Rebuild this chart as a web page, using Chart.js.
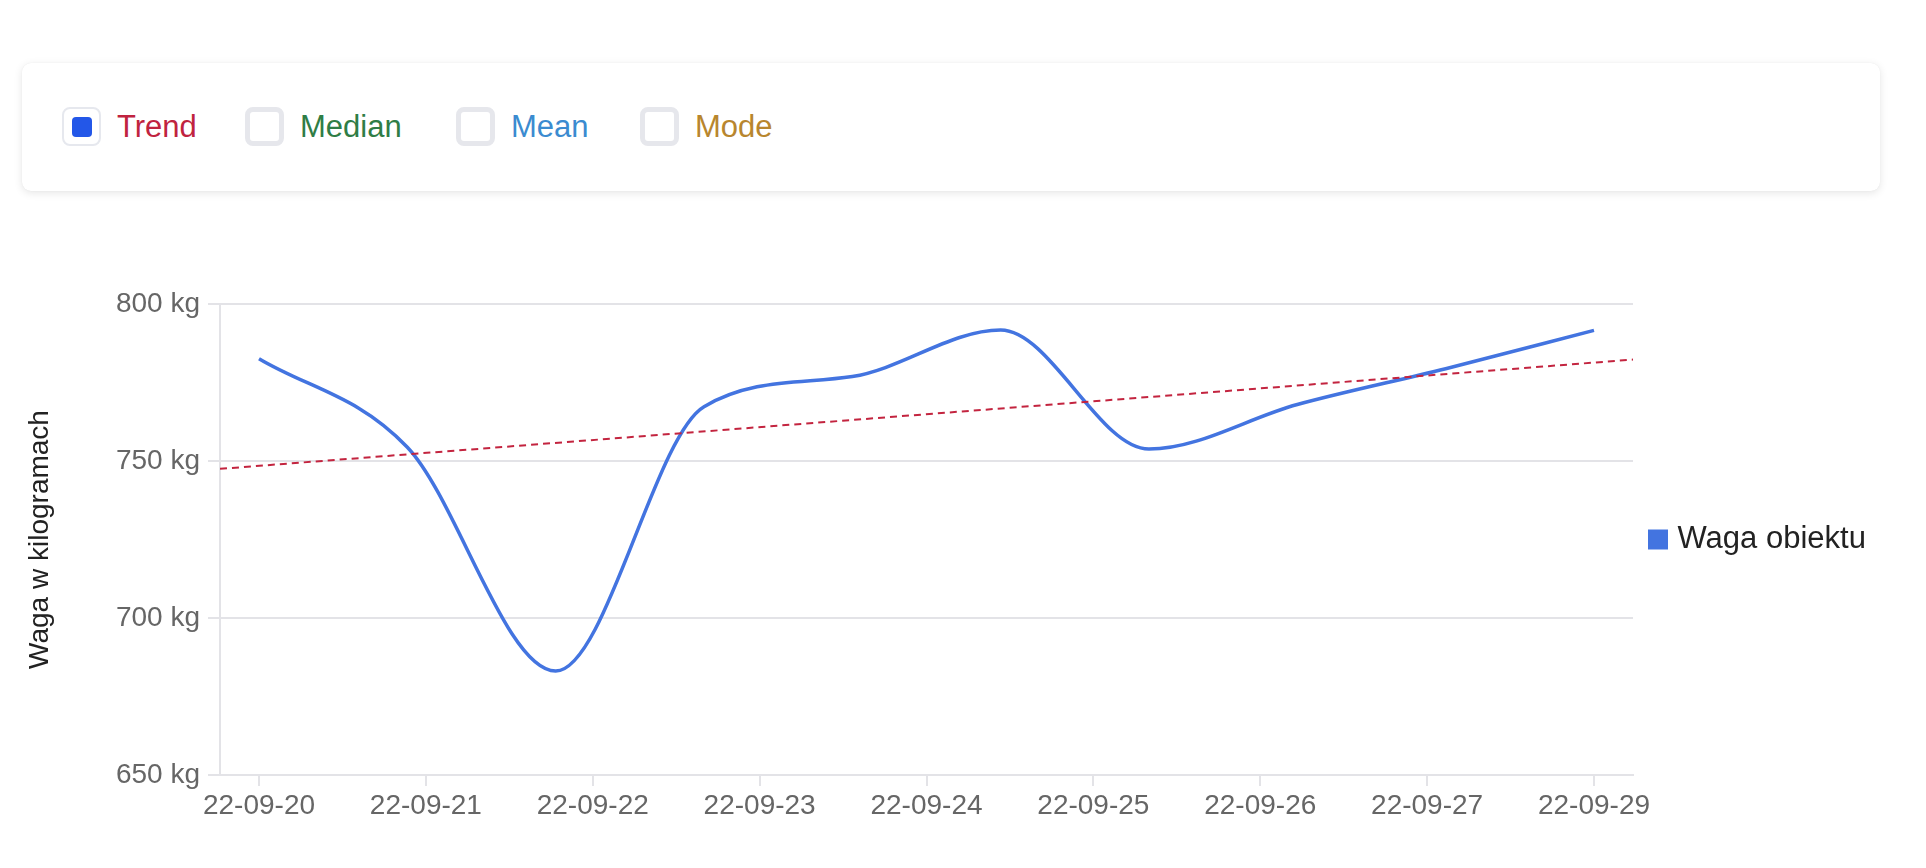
<!DOCTYPE html>
<html lang="pl">
<head>
<meta charset="utf-8">
<title>Waga obiektu</title>
<script src="https://cdn.jsdelivr.net/npm/chart.js@4.4.0/dist/chart.umd.min.js"></script>
<style>
  html, body { margin: 0; padding: 0; background: #fff; overflow: hidden; }
  body { width: 1926px; height: 868px; position: relative; font-family: 'Liberation Sans', Arial, sans-serif; }
  .filters {
    position: absolute; left: 22px; top: 63px; width: 1858px; height: 128px;
    background: #fff; border-radius: 9px;
    box-shadow: 0 2px 8px rgba(0, 0, 0, 0.1), 0 0 1px rgba(0, 0, 0, 0.08);
  }
  .opt { position: absolute; top: 44px; height: 39px; display: flex; align-items: center; font-size: 31px; }
  .box {
    width: 39px; height: 39px; box-sizing: border-box; border-radius: 8px;
    border: 5px solid #e6e7ec; margin-right: 16px;
    display: flex; align-items: center; justify-content: center;
  }
  .box.on { border: 2px solid #e6e8ee; }
  .box.on::after { content: ''; width: 20px; height: 20px; border-radius: 4px; background: #2357e8; }
  #chart-wrap { position: absolute; left: 0; top: 200px; width: 1926px; height: 668px; }
</style>
</head>
<body>
<div class="filters">
  <label class="opt" style="left:40px"><span class="box on"></span><span style="color:#c0233f">Trend</span></label>
  <label class="opt" style="left:223px"><span class="box"></span><span style="color:#2f7d46">Median</span></label>
  <label class="opt" style="left:434px"><span class="box"></span><span style="color:#3b8bd0">Mean</span></label>
  <label class="opt" style="left:618px"><span class="box"></span><span style="color:#b8862e">Mode</span></label>
</div>
<div id="chart-wrap"><canvas id="weightChart"></canvas></div>
<script>
// measurement days and weights (kg)
const dates = ['2022-09-20', '2022-09-21', '2022-09-22', '2022-09-23', '2022-09-24',
  '2022-09-25', '2022-09-26', '2022-09-27', '2022-09-28', '2022-09-29']
const weights = [782.6, 754.4, 683.1, 767.3, 776.9, 791.7, 753.8, 768.0, 779.4, 791.6]

// linear trend, value at the left and right edge of the plot
const trendValues = [747.5, 782.3]

// axis ticks
const tickLabels = ['22-09-20', '22-09-21', '22-09-22', '22-09-23', '22-09-24',
  '22-09-25', '22-09-26', '22-09-27', '22-09-29']
const yTicks = [650, 700, 750, 800]

const dayMs = 86400000
const days = dates.map(d => (Date.parse(d) - Date.parse(dates[0])) / dayMs)
const tickStep = days[days.length - 1] / (tickLabels.length - 1)
const xMin = -0.263
const xMax = days[days.length - 1] + 0.263

Chart.defaults.font.family = '"Liberation Sans", Arial, sans-serif'
Chart.defaults.animation = false

const legendFont = 31
const legendBoxW = 8
const legendPadding = 21
const ctx = document.getElementById('weightChart').getContext('2d')
ctx.font = legendFont + 'px "Liberation Sans"'
const legendTextWidth = ctx.measureText('Waga obiektu').width
const rightPad = 1926 - 1633 - (legendPadding + legendBoxW + legendFont / 2 + legendTextWidth + 10)

const gridColor = '#e3e3e7'

new Chart(ctx, {
  type: 'line',
  data: {
    datasets: [
      {
        label: 'Trend',
        data: [{ x: xMin, y: trendValues[0] }, { x: xMax, y: trendValues[1] }],
        borderColor: '#c3243f',
        borderWidth: 2,
        borderDash: [7, 5],
        pointRadius: 0,
        fill: false
      },
      {
        label: 'Waga obiektu',
        data: days.map((x, i) => ({ x: x, y: weights[i] })),
        borderColor: '#4374e0',
        backgroundColor: '#4374e0',
        borderWidth: 3.5,
        cubicInterpolationMode: 'monotone',
        pointRadius: 0,
        pointStyle: 'rect',
        fill: false
      }
    ]
  },
  options: {
    responsive: true,
    maintainAspectRatio: false,
    layout: { padding: { top: 104, bottom: 33, left: 0, right: rightPad } },
    plugins: {
      tooltip: { enabled: false },
      legend: {
        position: 'right',
        fullSize: false,
        align: 'center',
        labels: {
          usePointStyle: true,
          boxWidth: legendBoxW,
          boxHeight: 20,
          padding: legendPadding,
          color: '#222',
          font: { size: legendFont },
          generateLabels: chart => Chart.defaults.plugins.legend.labels.generateLabels(chart)
            .filter(item => item.text === 'Waga obiektu')
            .map(item => Object.assign(item, { lineWidth: 0, pointStyle: 'rect' }))
        }
      }
    },
    scales: {
      x: {
        type: 'linear',
        min: xMin,
        max: xMax,
        afterBuildTicks: axis => { axis.ticks = tickLabels.map((_, i) => ({ value: i * tickStep })) },
        afterFit: axis => { axis.height = 60 },
        ticks: {
          autoSkip: false,
          maxRotation: 0,
          padding: 3,
          color: '#666',
          font: { size: 28 },
          callback: (value, index) => tickLabels[index]
        },
        grid: { drawOnChartArea: false, drawTicks: true, tickLength: 11, color: gridColor, lineWidth: 2 },
        border: { display: true, color: gridColor, width: 2 }
      },
      y: {
        min: yTicks[0],
        max: yTicks[yTicks.length - 1],
        afterBuildTicks: axis => { axis.ticks = yTicks.map(v => ({ value: v })) },
        afterFit: axis => { axis.width = 220 },
        title: {
          display: true,
          text: 'Waga w kilogramach',
          color: '#222',
          font: { size: 28 },
          padding: { top: 23, bottom: 0 }
        },
        ticks: {
          padding: 8,
          color: '#666',
          font: { size: 28 },
          callback: value => value + ' kg'
        },
        grid: { color: gridColor, lineWidth: 2, tickLength: 12 },
        border: { display: true, color: gridColor, width: 2 }
      }
    }
  }
})
</script>
</body>
</html>
